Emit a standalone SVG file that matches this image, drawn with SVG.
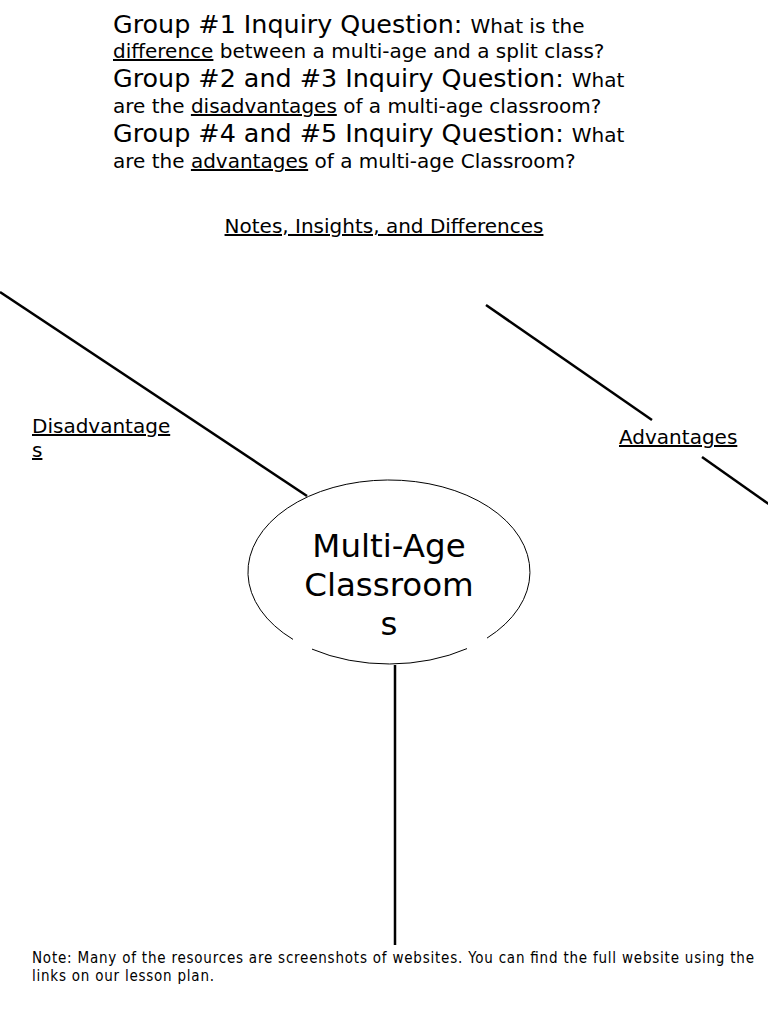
<svg xmlns="http://www.w3.org/2000/svg" width="768" height="1024" viewBox="0 0 768 1024">
<style>
text{font-family:"DejaVu Sans","Liberation Sans",sans-serif;fill:#000}
.big{font-size:25.4px}
.med{font-size:20px}
.u{text-decoration:underline}
.conn{stroke:#000;stroke-width:2.5;fill:none}
.note{font-family:"DejaVu Sans Condensed","DejaVu Sans",sans-serif;font-size:15px}
</style>
<rect width="768" height="1024" fill="#fff"/>
<g id="header">
<text x="113" y="33"><tspan class="big">Group #1 Inquiry Question: </tspan><tspan class="med">What is the</tspan></text>
<text x="113" y="58" class="med"><tspan class="u">difference</tspan> between a multi-age and a split class?</text>
<text x="113" y="87"><tspan class="big">Group #2 and #3 Inquiry Question: </tspan><tspan class="med">What</tspan></text>
<text x="113" y="113" class="med">are the <tspan class="u">disadvantages</tspan> of a multi-age classroom?</text>
<text x="113" y="142"><tspan class="big">Group #4 and #5 Inquiry Question: </tspan><tspan class="med">What</tspan></text>
<text x="113" y="168" class="med">are the <tspan class="u">advantages</tspan> of a multi-age Classroom?</text>
</g>
<g id="title"><text x="384" y="233" class="med u" text-anchor="middle">Notes, Insights, and Differences</text></g>
<g id="connectors">
<line class="conn" x1="0" y1="292" x2="307" y2="496"/>
<line class="conn" x1="486" y1="305" x2="652" y2="420"/>
<line class="conn" x1="702" y1="457" x2="770" y2="505"/>
<line class="conn" x1="395" y1="665" x2="395" y2="945"/>
</g>
<g id="disadvantages"><text x="32" y="433" class="med u">Disadvantage</text><text x="32" y="457" class="med u">s</text></g>
<g id="advantages"><text x="619" y="444" class="med u">Advantages</text></g>
<g id="center">
<path d="M 312 649.1 A 141 92 0 0 0 467 648.6 M 487 638.1 A 141 92 0 1 0 293 639.4" fill="none" stroke="#000" stroke-width="1"/>
<text x="389" y="557" font-size="32.5" text-anchor="middle">Multi-Age</text>
<text x="389" y="596" font-size="32.5" text-anchor="middle">Classroom</text>
<text x="389" y="635" font-size="32.5" text-anchor="middle">s</text>
</g>
<g id="note">
<text x="32" y="963" class="note" textLength="722" lengthAdjust="spacing">Note: Many of the resources are screenshots of websites. You can find the full website using the</text>
<text x="32" y="981" class="note" textLength="182" lengthAdjust="spacing">links on our lesson plan.</text>
</g>
</svg>
